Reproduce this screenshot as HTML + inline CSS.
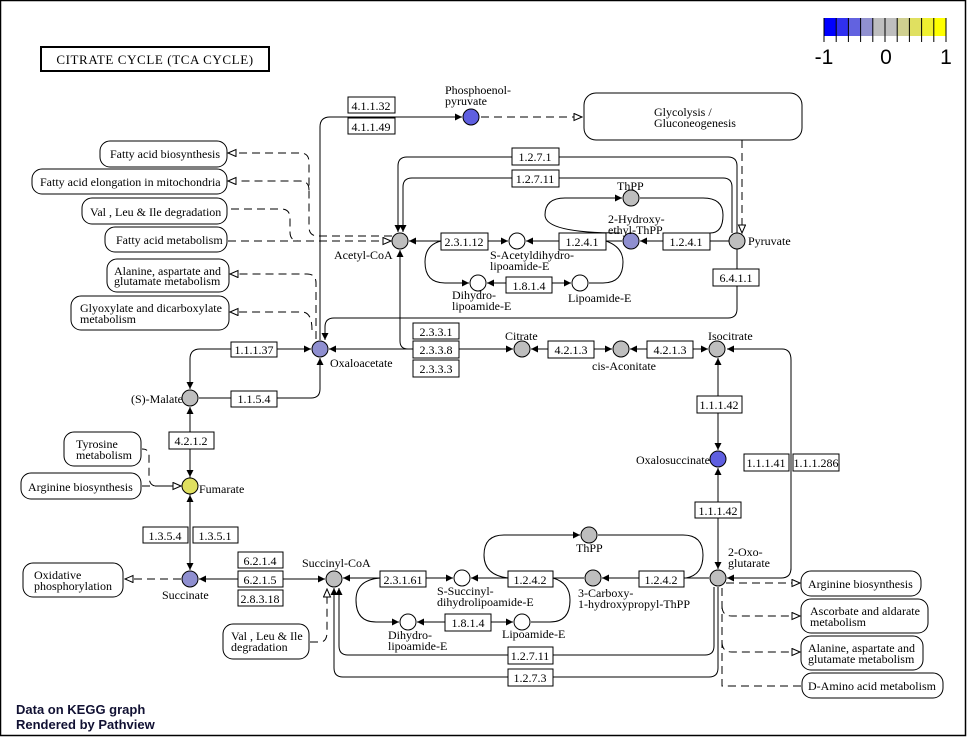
<!DOCTYPE html>
<html><head><meta charset="utf-8"><style>
body{margin:0;background:#fff}
svg{display:block}
text{font-family:"Liberation Serif",serif;font-size:12px;fill:#000}
.e rect{fill:#fff;stroke:#000;stroke-width:1}
.m{fill:#fff;stroke:#000;stroke-width:1}
.l{fill:none;stroke:#000;stroke-width:1}
.d{fill:none;stroke:#000;stroke-width:1;stroke-dasharray:8,5}
.c{stroke:#000;stroke-width:1}
</style></head><body>
<svg width="970" height="737" viewBox="0 0 970 737" xmlns="http://www.w3.org/2000/svg">
<defs>
<marker id="a" markerWidth="8" markerHeight="8" refX="7" refY="4" orient="auto" markerUnits="userSpaceOnUse"><path d="M0,0.5 L7,4 L0,7.5 Z" fill="#000"/></marker>
<marker id="o" markerWidth="10" markerHeight="10" refX="9" refY="4" orient="auto" markerUnits="userSpaceOnUse"><path d="M1,0.5 L9,4 L1,7.5 Z" fill="#fff" stroke="#000" stroke-width="1"/></marker>
</defs>
<rect x="0.5" y="0.5" width="965" height="735" fill="#fff" stroke="#000" stroke-width="1.5"/>
<g>
<rect x="824" y="18" width="12.2" height="18" fill="#0000ff"/>
<rect x="836.2" y="18" width="12.2" height="18" fill="#3030f0"/>
<rect x="848.4" y="18" width="12.2" height="18" fill="#6262e0"/>
<rect x="860.6" y="18" width="12.2" height="18" fill="#9090d0"/>
<rect x="872.8" y="18" width="12.2" height="18" fill="#bebebe"/>
<rect x="885" y="18" width="12.2" height="18" fill="#bebebe"/>
<rect x="897.2" y="18" width="12.2" height="18" fill="#d0d090"/>
<rect x="909.4" y="18" width="12.2" height="18" fill="#e0e060"/>
<rect x="921.6" y="18" width="12.2" height="18" fill="#f0f030"/>
<rect x="933.8" y="18" width="12.2" height="18" fill="#ffff00"/>
<path class="c" d="M824,18V42M836.2,18V42M848.4,18V42M860.6,18V42M872.8,18V42M885,18V42M897.2,18V42M909.4,18V42M921.6,18V42M933.8,18V42M946,18V42" stroke-width="0.8"/>
<text x="824" y="64" style="font-family:'Liberation Sans',sans-serif;font-size:21px" text-anchor="middle">-1</text>
<text x="886" y="64" style="font-family:'Liberation Sans',sans-serif;font-size:21px" text-anchor="middle">0</text>
<text x="946" y="64" style="font-family:'Liberation Sans',sans-serif;font-size:21px" text-anchor="middle">1</text>
</g>
<rect x="41" y="47" width="228" height="24" fill="#fff" stroke="#000" stroke-width="2"/>
<text x="155" y="64" text-anchor="middle" style="font-size:13px;letter-spacing:0.6px">CITRATE  CYCLE  (TCA CYCLE)</text>

<path class="l" d="M320,340V127Q320,117 330,117H462" marker-end="url(#a)"/>
<path class="l" d="M737,233V166Q737,157 728,157H407Q398,157 398,166V232" marker-end="url(#a)"/>
<path class="l" d="M732,233V187Q732,178 723,178H412Q403,178 403,187V232" marker-end="url(#a)"/>
<path class="l" d="M729,241H710M663,241H640" marker-end="url(#a)"/>
<path class="l" d="M559,241H526" marker-end="url(#a)"/>
<path class="l" d="M606,241H622"/>
<path class="l" d="M441,241H409" marker-end="url(#a)"/>
<path class="l" d="M488,241H508" marker-end="url(#a)"/>
<path class="l" d="M441,241Q425,245 425,262Q425,283 445,283H469" marker-end="url(#a)"/>
<path class="l" d="M506,283H487" marker-end="url(#a)"/>
<path class="l" d="M552,283H571" marker-end="url(#a)"/>
<path class="l" d="M606,241Q623,247 623,262Q623,283 603,283H589"/>
<path class="l" d="M620,233Q545,233 545,215Q545,198 565,198H622" marker-end="url(#a)"/>
<path class="l" d="M640,198H703Q723,198 723,215Q723,233 710,233"/>
<path class="l" d="M737,249V269M737,286V309Q737,318 728,318H334Q325,318 325,327V340" marker-end="url(#a)"/>
<path class="l" d="M400,341Q400,349 408,349H413M459,349H513" marker-end="url(#a)"/>
<path class="l" d="M400,341V250" marker-end="url(#a)"/>
<path class="l" d="M413,349H329" marker-end="url(#a)"/>
<path class="l" d="M548,349H531" marker-end="url(#a)"/>
<path class="l" d="M594,349H612" marker-end="url(#a)"/>
<path class="l" d="M647,349H630" marker-end="url(#a)"/>
<path class="l" d="M693,349H708" marker-end="url(#a)"/>
<path class="l" d="M791,570V360Q791,349 782,349H727" marker-end="url(#a)"/>
<path class="l" d="M791,568Q791,578 781,578H727" marker-end="url(#a)"/>
<path class="l" d="M718,396V358" marker-end="url(#a)"/>
<path class="l" d="M718,413V450" marker-end="url(#a)"/>
<path class="l" d="M718,502V468" marker-end="url(#a)"/>
<path class="l" d="M718,518V569" marker-end="url(#a)"/>
<path class="l" d="M709,578H684M639,578H602" marker-end="url(#a)"/>
<path class="l" d="M584,578H553M508,578H471" marker-end="url(#a)"/>
<path class="l" d="M426,578H453" marker-end="url(#a)"/>
<path class="l" d="M380,578H343" marker-end="url(#a)"/>
<path class="l" d="M508,578Q484,575 484,555Q484,535 504,535H580" marker-end="url(#a)"/>
<path class="l" d="M598,535H683Q703,535 703,555Q703,575 686,578"/>
<path class="l" d="M380,578Q356,580 356,600Q356,622 376,622H399" marker-end="url(#a)"/>
<path class="l" d="M445,622H417" marker-end="url(#a)"/>
<path class="l" d="M491,622H513" marker-end="url(#a)"/>
<path class="l" d="M553,578Q570,583 570,600Q570,622 550,622H531"/>
<path class="l" d="M714,587V646Q714,655 705,655H553M508,655H348Q339,655 339,646V588" marker-end="url(#a)"/>
<path class="l" d="M718,587V668Q718,677 709,677H553M508,677H343Q334,677 334,668V588" marker-end="url(#a)"/>
<path class="l" d="M238,579H199" marker-end="url(#a)"/>
<path class="l" d="M283,579H325" marker-end="url(#a)"/>
<path class="l" d="M190,407V432M190,449V477" marker-end="url(#a)"/>
<path class="l" d="M190,494V570" marker-end="url(#a)" marker-start="url(#a)" style="marker-start:none"/>
<path class="l" d="M190,570V495" marker-end="url(#a)"/>
<path class="l" d="M190,478V407" marker-end="url(#a)"/>
<path class="l" d="M231,349H200Q190,349 190,359V389" marker-end="url(#a)"/>
<path class="l" d="M277,349H311" marker-end="url(#a)"/>
<path class="l" d="M199,398H231M277,398H311Q320,398 320,389V358" marker-end="url(#a)"/>

<path class="d" d="M481,117H582" marker-end="url(#o)"/>
<path class="d" d="M742,140V233" marker-end="url(#o)"/>
<path class="d" d="M392,236H318Q309,236 309,227V162Q309,153 300,153H228" marker-end="url(#o)"/>
<path class="d" d="M309,190Q309,181 300,181H228" marker-end="url(#o)"/>
<path class="d" d="M231,209H281Q290,209 290,218V232Q290,241 299,241"/>
<path class="d" d="M228,241H391" marker-end="url(#o)"/>
<path class="d" d="M316,339V283Q316,274 307,274H230" marker-end="url(#o)"/>
<path class="d" d="M312,330Q312,312 302,312H230" marker-end="url(#o)"/>
<path class="d" d="M181,486H156Q149,486 149,476V455Q149,449 142,449" />
<path class="d" d="M142,486H181" marker-end="url(#o)"/>
<path class="d" d="M181,579H125" marker-end="url(#o)"/>
<path class="d" d="M310,642H320Q327,642 327,632V589" marker-end="url(#o)"/>
<path class="d" d="M726,583H800" marker-end="url(#o)"/>
<path class="d" d="M722,588V686Q722,686 735,686H802"/>
<path class="d" d="M722,606Q722,616 732,616H800" marker-end="url(#o)"/>
<path class="d" d="M722,642Q722,652 732,652H800" marker-end="url(#o)"/>

<g class="e">
<rect x="348" y="97" width="47" height="16"/><rect x="348" y="118" width="47" height="16"/>
<rect x="512" y="148" width="47" height="17"/><rect x="512" y="170" width="47" height="17"/>
<rect x="441" y="233" width="47" height="17"/><rect x="559" y="233" width="47" height="17"/>
<rect x="663" y="233" width="47" height="17"/><rect x="506" y="277" width="46" height="16"/>
<rect x="713" y="269" width="46" height="17"/>
<rect x="413" y="323" width="46" height="16"/><rect x="413" y="341" width="46" height="17"/><rect x="413" y="360" width="46" height="17"/>
<rect x="548" y="341" width="46" height="17"/><rect x="647" y="341" width="46" height="17"/>
<rect x="697" y="396" width="45" height="17"/><rect x="695" y="502" width="46" height="16"/>
<rect x="744" y="454" width="45" height="17"/><rect x="793" y="454" width="46" height="17"/>
<rect x="639" y="571" width="45" height="16"/><rect x="508" y="571" width="45" height="16"/>
<rect x="508" y="647" width="45" height="17"/><rect x="508" y="669" width="45" height="17"/>
<rect x="380" y="571" width="46" height="16"/><rect x="445" y="614" width="46" height="17"/>
<rect x="238" y="552" width="45" height="16"/><rect x="238" y="571" width="45" height="16"/><rect x="238" y="590" width="45" height="16"/>
<rect x="143" y="527" width="45" height="16"/><rect x="193" y="527" width="45" height="16"/>
<rect x="169" y="432" width="45" height="17"/>
<rect x="231" y="342" width="46" height="15"/><rect x="231" y="391" width="46" height="16"/>
</g>
<g text-anchor="middle">
<text x="371" y="110">4.1.1.32</text><text x="371" y="131">4.1.1.49</text>
<text x="535" y="161">1.2.7.1</text><text x="535" y="183">1.2.7.11</text>
<text x="464" y="246">2.3.1.12</text><text x="582" y="246">1.2.4.1</text>
<text x="686" y="246">1.2.4.1</text><text x="529" y="290">1.8.1.4</text>
<text x="736" y="282">6.4.1.1</text>
<text x="436" y="336">2.3.3.1</text><text x="436" y="354">2.3.3.8</text><text x="436" y="373">2.3.3.3</text>
<text x="571" y="354">4.2.1.3</text><text x="670" y="354">4.2.1.3</text>
<text x="719" y="409">1.1.1.42</text><text x="718" y="515">1.1.1.42</text>
<text x="766" y="467">1.1.1.41</text><text x="816" y="467">1.1.1.286</text>
<text x="661" y="584">1.2.4.2</text><text x="530" y="584">1.2.4.2</text>
<text x="530" y="660">1.2.7.11</text><text x="530" y="682">1.2.7.3</text>
<text x="403" y="584">2.3.1.61</text><text x="468" y="627">1.8.1.4</text>
<text x="260" y="565">6.2.1.4</text><text x="260" y="584">6.2.1.5</text><text x="260" y="603">2.8.3.18</text>
<text x="165" y="540">1.3.5.4</text><text x="215" y="540">1.3.5.1</text>
<text x="191" y="445">4.2.1.2</text>
<text x="254" y="354">1.1.1.37</text><text x="254" y="403">1.1.5.4</text>
</g>

<g class="m">
<rect x="100" y="141" width="127" height="26" rx="10"/>
<rect x="32" y="169" width="195" height="25" rx="10"/>
<rect x="82" y="198" width="145" height="26" rx="10"/>
<rect x="105" y="227" width="122" height="25" rx="10"/>
<rect x="107" y="259" width="122" height="33" rx="10"/>
<rect x="71" y="296" width="158" height="34" rx="10"/>
<rect x="584" y="93" width="218" height="47" rx="12"/>
<rect x="64" y="432" width="77" height="34" rx="10"/>
<rect x="21" y="473" width="120" height="26" rx="10"/>
<rect x="23" y="563" width="100" height="34" rx="10"/>
<rect x="223" y="624" width="86" height="35" rx="10"/>
<rect x="801" y="571" width="120" height="25" rx="10"/>
<rect x="801" y="599" width="127" height="34" rx="10"/>
<rect x="801" y="636" width="122" height="34" rx="10"/>
<rect x="802" y="673" width="141" height="25" rx="10"/>
</g>
<text x="110" y="158">Fatty acid biosynthesis</text>
<text x="40" y="186">Fatty acid elongation in mitochondria</text>
<text x="90" y="216">Val , Leu &amp; Ile degradation</text>
<text x="116" y="244">Fatty acid metabolism</text>
<text x="114" y="275">Alanine, aspartate and</text><text x="114" y="285">glutamate metabolism</text>
<text x="80" y="312">Glyoxylate and dicarboxylate</text><text x="80" y="323">metabolism</text>
<text x="654" y="116">Glycolysis /</text><text x="654" y="127">Gluconeogenesis</text>
<text x="76" y="448">Tyrosine</text><text x="76" y="459">metabolism</text>
<text x="28" y="491">Arginine biosynthesis</text>
<text x="34" y="579">Oxidative</text><text x="34" y="590">phosphorylation</text>
<text x="231" y="640">Val , Leu &amp; Ile</text><text x="231" y="651">degradation</text>
<text x="808" y="588">Arginine biosynthesis</text>
<text x="810" y="615">Ascorbate and aldarate</text><text x="810" y="626">metabolism</text>
<text x="808" y="652">Alanine, aspartate and</text><text x="808" y="663">glutamate metabolism</text>
<text x="808" y="690">D-Amino acid metabolism</text>

<g class="c">
<circle cx="471" cy="117" r="8" fill="#5f5fe0"/>
<circle cx="400" cy="241" r="8" fill="#bebebe"/>
<circle cx="517" cy="241" r="8" fill="#fff"/>
<circle cx="631" cy="241" r="8" fill="#8f8fd0"/>
<circle cx="631" cy="198" r="8" fill="#bebebe"/>
<circle cx="737" cy="241" r="8" fill="#bebebe"/>
<circle cx="478" cy="283" r="8" fill="#fff"/>
<circle cx="580" cy="283" r="8" fill="#fff"/>
<circle cx="320" cy="349" r="8" fill="#8f8fd0"/>
<circle cx="522" cy="349" r="8" fill="#bebebe"/>
<circle cx="621" cy="349" r="8" fill="#bebebe"/>
<circle cx="717" cy="349" r="8" fill="#bebebe"/>
<circle cx="718" cy="459" r="8" fill="#5f5fe0"/>
<circle cx="718" cy="578" r="8" fill="#bebebe"/>
<circle cx="190" cy="398" r="8" fill="#bebebe"/>
<circle cx="190" cy="486" r="8" fill="#e0e060"/>
<circle cx="190" cy="579" r="8" fill="#8f8fd0"/>
<circle cx="334" cy="579" r="8" fill="#bebebe"/>
<circle cx="462" cy="578" r="8" fill="#fff"/>
<circle cx="589" cy="535" r="8" fill="#bebebe"/>
<circle cx="593" cy="578" r="8" fill="#bebebe"/>
<circle cx="408" cy="622" r="8" fill="#fff"/>
<circle cx="522" cy="622" r="8" fill="#fff"/>
</g>
<text x="445" y="94">Phosphoenol-</text><text x="445" y="105">pyruvate</text>
<text x="617" y="190">ThPP</text>
<text x="608" y="223">2-Hydroxy-</text><text x="608" y="234">ethyl-ThPP</text>
<text x="748" y="245">Pyruvate</text>
<text x="334" y="259">Acetyl-CoA</text>
<text x="490" y="259">S-Acetyldihydro-</text><text x="490" y="270">lipoamide-E</text>
<text x="452" y="299">Dihydro-</text><text x="452" y="310">lipoamide-E</text>
<text x="568" y="302">Lipoamide-E</text>
<text x="505" y="340">Citrate</text>
<text x="592" y="370">cis-Aconitate</text>
<text x="708" y="340">Isocitrate</text>
<text x="330" y="367">Oxaloacetate</text>
<text x="131" y="403">(S)-Malate</text>
<text x="199" y="493">Fumarate</text>
<text x="162" y="599">Succinate</text>
<text x="302" y="567">Succinyl-CoA</text>
<text x="636" y="464">Oxalosuccinate</text>
<text x="728" y="556">2-Oxo-</text><text x="728" y="567">glutarate</text>
<text x="576" y="552">ThPP</text>
<text x="578" y="597">3-Carboxy-</text><text x="578" y="608">1-hydroxypropyl-ThPP</text>
<text x="437" y="595">S-Succinyl-</text><text x="437" y="606">dihydrolipoamide-E</text>
<text x="388" y="639">Dihydro-</text><text x="388" y="650">lipoamide-E</text>
<text x="502" y="638">Lipoamide-E</text>

<text x="16" y="714" style="font-family:'Liberation Sans',sans-serif;font-size:13px;font-weight:bold;fill:#111133">Data on KEGG graph</text>
<text x="16" y="729" style="font-family:'Liberation Sans',sans-serif;font-size:13px;font-weight:bold;fill:#111133">Rendered by Pathview</text>
</svg>
</body></html>
